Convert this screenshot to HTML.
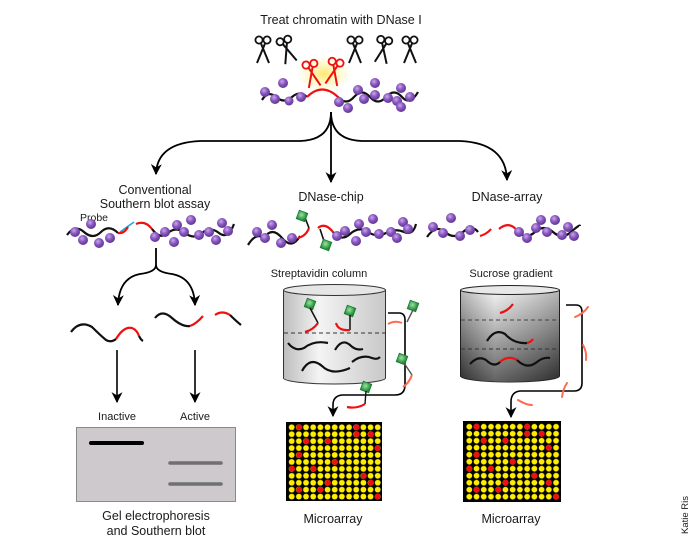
<!DOCTYPE html>
<html><head><meta charset="utf-8"><style>
html,body{margin:0;padding:0;background:#fff;width:700px;height:557px;overflow:hidden}
svg{display:block}
text{font-family:"Liberation Sans",Arial,sans-serif;fill:#1a1a1a}
</style></head><body>
<svg width="700" height="557" viewBox="0 0 700 557" xmlns="http://www.w3.org/2000/svg">
<defs>
<radialGradient id="nuc" cx="40%" cy="35%" r="65%"><stop offset="0" stop-color="#c9a8ec"/><stop offset="0.5" stop-color="#8a58c0"/><stop offset="1" stop-color="#5e3592"/></radialGradient>
<radialGradient id="glow" cx="50%" cy="50%" r="50%"><stop offset="0" stop-color="#ffe75a" stop-opacity="0.9"/><stop offset="1" stop-color="#fff6b0" stop-opacity="0"/></radialGradient>
<linearGradient id="cylG" x1="0" x2="1"><stop offset="0" stop-color="#bdbdbd"/><stop offset="0.35" stop-color="#f4f4f4"/><stop offset="1" stop-color="#c8c8c8"/></linearGradient>
<linearGradient id="sucG" x1="0" y1="0" x2="0" y2="1"><stop offset="0" stop-color="#f2f2f2"/><stop offset="1" stop-color="#3a3a3a"/></linearGradient>
<linearGradient id="sucH" x1="0" x2="1"><stop offset="0" stop-color="#000" stop-opacity="0.25"/><stop offset="0.35" stop-color="#fff" stop-opacity="0.2"/><stop offset="1" stop-color="#000" stop-opacity="0.25"/></linearGradient>
<radialGradient id="grn" cx="40%" cy="40%" r="60%"><stop offset="0" stop-color="#9be39b"/><stop offset="1" stop-color="#1e8a3a"/></radialGradient>
<pattern id="dotsL" x="288.1" y="423.8" width="7.17" height="6.93" patternUnits="userSpaceOnUse"><circle cx="3.58" cy="3.46" r="2.9" fill="#ffee00"/></pattern>
<pattern id="dotsR" x="465.7" y="423.2" width="7.23" height="7" patternUnits="userSpaceOnUse"><circle cx="3.6" cy="3.5" r="2.9" fill="#ffee00"/></pattern>
<marker id="ah" viewBox="0 0 10 10" refX="9" refY="5" markerWidth="11" markerHeight="11" markerUnits="userSpaceOnUse" orient="auto"><path d="M0,0 L10,5 L0,10 L3,5 Z" fill="#000"/></marker>
<g id="sc"><circle cx="-4" cy="-10" r="3.6" fill="none" stroke-width="1.8"/><circle cx="4" cy="-10" r="3.6" fill="none" stroke-width="1.8"/><path d="M-2,-6.5 L6,13 M2,-6.5 L-6,13" fill="none" stroke-width="2"/></g>
<g id="gs"><rect x="-4.5" y="-4.5" width="9" height="9" fill="url(#grn)" stroke="#157a2e" stroke-width="0.8" transform="rotate(20)"/></g>
</defs>

<text x="341" y="24" font-size="12.5" text-anchor="middle">Treat chromatin with DNase I</text>
<g stroke="#111"><use href="#sc" x="263" y="50"/><use href="#sc" x="287" y="50" transform="rotate(-18 287 50)"/><use href="#sc" x="355" y="50"/><use href="#sc" x="383" y="50" transform="rotate(10 383 50)"/><use href="#sc" x="410" y="50"/></g>
<ellipse cx="324" cy="74" rx="28" ry="19" fill="url(#glow)"/>
<g stroke="#ee1111"><use href="#sc" x="312" y="74" transform="rotate(-12 312 74)"/><use href="#sc" x="334" y="72" transform="rotate(12 334 72)"/></g>

<path d="M262,100 Q268,90 276,97 T292,97 T307,97" fill="none" stroke="#111" stroke-width="2.2"/>
<path d="M307,97 Q322,82 338,97" fill="none" stroke="#ee1111" stroke-width="2.2"/>
<path d="M338,97 Q346,106 354,97 T370,97 T386,97 T402,97 T418,92" fill="none" stroke="#111" stroke-width="2.2"/>
<g fill="url(#nuc)">
<circle cx="265" cy="92" r="5"/><circle cx="275" cy="99" r="5"/><circle cx="283" cy="83" r="5"/><circle cx="301" cy="97" r="5"/><circle cx="289" cy="101" r="4.5"/>
<circle cx="339" cy="102" r="5"/><circle cx="348" cy="108" r="5"/><circle cx="358" cy="90" r="5"/><circle cx="364" cy="99" r="5"/><circle cx="375" cy="95" r="5"/><circle cx="375" cy="83" r="5"/><circle cx="388" cy="98" r="5"/><circle cx="397" cy="101" r="5"/><circle cx="401" cy="88" r="5"/><circle cx="410" cy="97" r="5"/><circle cx="401" cy="107" r="5"/>
</g>

<path d="M331,112 Q331,140 300,141 L200,141 Q157,143 156,174" fill="none" stroke="#000" stroke-width="1.8" marker-end="url(#ah)"/>
<path d="M331,112 L331,182" fill="none" stroke="#000" stroke-width="1.8" marker-end="url(#ah)"/>
<path d="M331,112 Q331,140 362,141 L460,141 Q506,143 507,180" fill="none" stroke="#000" stroke-width="1.8" marker-end="url(#ah)"/>

<text x="155" y="194" font-size="12.5" text-anchor="middle">Conventional</text>
<text x="155" y="208" font-size="12.5" text-anchor="middle">Southern blot assay</text>
<text x="331" y="201" font-size="12.5" text-anchor="middle">DNase-chip</text>
<text x="507" y="201" font-size="12.5" text-anchor="middle">DNase-array</text>

<text x="80" y="221" font-size="10.5">Probe</text>
<line x1="120" y1="232" x2="134" y2="222" stroke="#22aadd" stroke-width="1.6"/>
<path d="M67,235 Q75,224 84,232 T101,232 T118,233" fill="none" stroke="#111" stroke-width="2.2"/>
<path d="M118,233 Q124,234 128,227" fill="none" stroke="#ee1111" stroke-width="2.2"/>
<path d="M136,224 Q145,220 152,229" fill="none" stroke="#ee1111" stroke-width="2.2"/>
<path d="M152,229 Q160,240 168,233 T185,233 T202,233 T219,233 T234,224" fill="none" stroke="#111" stroke-width="2.2"/>
<g fill="url(#nuc)">
<circle cx="75" cy="232" r="5"/><circle cx="91" cy="224" r="5"/><circle cx="83" cy="240" r="5"/><circle cx="99" cy="243" r="5"/><circle cx="110" cy="238" r="5"/>
<circle cx="155" cy="237" r="5"/><circle cx="165" cy="232" r="5"/><circle cx="174" cy="242" r="5"/><circle cx="177" cy="225" r="5"/><circle cx="184" cy="232" r="5"/><circle cx="191" cy="220" r="5"/><circle cx="199" cy="235" r="5"/><circle cx="209" cy="232" r="5"/><circle cx="216" cy="240" r="5"/><circle cx="222" cy="223" r="5"/><circle cx="228" cy="231" r="5"/>
</g>

<path d="M248,245 Q256,232 264,238 Q272,226 282,238 T300,236" fill="none" stroke="#111" stroke-width="2.2"/>
<path d="M298,238 Q306,236 309,228" fill="none" stroke="#ee1111" stroke-width="2.2"/>
<line x1="309" y1="228" x2="304" y2="215" stroke="#111" stroke-width="1.6"/>
<use href="#gs" x="302" y="216"/>
<path d="M318,228 Q325,222 333,232" fill="none" stroke="#ee1111" stroke-width="2.2"/>
<line x1="320" y1="229" x2="325" y2="244" stroke="#111" stroke-width="1.6"/>
<use href="#gs" x="326" y="245"/>
<path d="M333,232 Q341,242 350,234 T368,232 T386,233 T404,232 T416,224" fill="none" stroke="#111" stroke-width="2.2"/>
<g fill="url(#nuc)">
<circle cx="257" cy="232" r="5"/><circle cx="272" cy="225" r="5"/><circle cx="265" cy="238" r="5"/><circle cx="281" cy="243" r="5"/><circle cx="292" cy="238" r="5"/>
<circle cx="337" cy="236" r="5"/><circle cx="345" cy="231" r="5"/><circle cx="356" cy="241" r="5"/><circle cx="359" cy="224" r="5"/><circle cx="366" cy="232" r="5"/><circle cx="373" cy="219" r="5"/><circle cx="379" cy="234" r="5"/><circle cx="391" cy="232" r="5"/><circle cx="397" cy="238" r="5"/><circle cx="403" cy="222" r="5"/><circle cx="408" cy="229" r="5"/>
</g>

<path d="M427,237 Q436,224 445,232 T463,232 T478,232" fill="none" stroke="#111" stroke-width="2.2"/>
<path d="M480,236 Q487,234 491,229" fill="none" stroke="#ee1111" stroke-width="2.2"/>
<path d="M499,229 Q510,220 518,232" fill="none" stroke="#ee1111" stroke-width="2.2"/>
<path d="M518,232 Q526,240 535,232 T553,232 T571,232 T580,226" fill="none" stroke="#111" stroke-width="2.2"/>
<g fill="url(#nuc)">
<circle cx="433" cy="227" r="5"/><circle cx="443" cy="233" r="5"/><circle cx="451" cy="218" r="5"/><circle cx="460" cy="236" r="5"/><circle cx="470" cy="230" r="5"/>
<circle cx="519" cy="232" r="5"/><circle cx="527" cy="238" r="5"/><circle cx="536" cy="228" r="5"/><circle cx="541" cy="220" r="5"/><circle cx="547" cy="232" r="5"/><circle cx="555" cy="220" r="5"/><circle cx="562" cy="235" r="5"/><circle cx="568" cy="227" r="5"/><circle cx="574" cy="236" r="5"/>
</g>

<path d="M156,248 L156,265 Q156,272 140,274 Q119,278 118,305" fill="none" stroke="#000" stroke-width="1.8" marker-end="url(#ah)"/>
<path d="M156,265 Q156,272 172,274 Q194,278 195,305" fill="none" stroke="#000" stroke-width="1.8" marker-end="url(#ah)"/>
<path d="M71,332 Q80,320 92,327 Q100,335 106,340 Q111,343 116,339" fill="none" stroke="#111" stroke-width="2.2"/>
<path d="M116,339 Q124,326 132,328 Q137,330 139,336" fill="none" stroke="#ee1111" stroke-width="2.2"/>
<path d="M139,336 Q141,340 143,341" fill="none" stroke="#111" stroke-width="2.2"/>
<path d="M155,318 Q162,309 172,318 T190,326" fill="none" stroke="#111" stroke-width="2.2"/>
<path d="M190,326 Q196,324 203,316" fill="none" stroke="#ee1111" stroke-width="2.2"/>
<path d="M215,315 Q222,310 230,315" fill="none" stroke="#ee1111" stroke-width="2.2"/>
<path d="M230,315 Q236,321 241,325" fill="none" stroke="#111" stroke-width="2.2"/>
<line x1="117" y1="350" x2="117" y2="402" stroke="#000" stroke-width="1.6" marker-end="url(#ah)"/>
<line x1="195" y1="350" x2="195" y2="402" stroke="#000" stroke-width="1.6" marker-end="url(#ah)"/>
<text x="117" y="420" font-size="11" text-anchor="middle">Inactive</text>
<text x="195" y="420" font-size="11" text-anchor="middle">Active</text>
<rect x="76.5" y="427.5" width="159" height="74" fill="#cdc9cd" stroke="#8a8a8a"/>
<line x1="91" y1="443" x2="142" y2="443" stroke="#000" stroke-width="4" stroke-linecap="round"/>
<line x1="170" y1="463" x2="221" y2="463" stroke="#707070" stroke-width="3.5" stroke-linecap="round"/>
<line x1="170" y1="484" x2="221" y2="484" stroke="#707070" stroke-width="3.5" stroke-linecap="round"/>
<text x="156" y="520" font-size="12.5" text-anchor="middle">Gel electrophoresis</text>
<text x="156" y="535" font-size="12.5" text-anchor="middle">and Southern blot</text>

<text x="319" y="277" font-size="11" text-anchor="middle">Streptavidin column</text>
<path d="M283.5,290 L283.5,378 A51,6 0 0 0 385.5,378 L385.5,290" fill="url(#cylG)" stroke="#333" stroke-width="1"/>
<ellipse cx="334.5" cy="290" rx="51" ry="5.5" fill="#e6e6e6" stroke="#333" stroke-width="1"/>
<line x1="284" y1="333" x2="385" y2="333" stroke="#333" stroke-dasharray="4,3"/>
<use href="#gs" x="310" y="304"/><line x1="310" y1="308" x2="318" y2="323" stroke="#111" stroke-width="1.5"/>
<path d="M305,332 Q313,330 318,323" fill="none" stroke="#ee1111" stroke-width="2.2"/>
<use href="#gs" x="350" y="311"/><line x1="350" y1="315" x2="350" y2="330" stroke="#111" stroke-width="1.5"/>
<path d="M336,323 Q338,331 350,330" fill="none" stroke="#ee1111" stroke-width="2.2"/>
<g fill="none" stroke="#111" stroke-width="2.2">
<path d="M288,343 Q295,352 304,348 Q314,340 328,343"/>
<path d="M335,350 Q342,338 350,345 Q356,351 363,349"/>
<path d="M302,371 Q310,356 322,366 Q332,376 350,368"/>
<path d="M352,362 Q362,354 372,358 Q377,360 380,357"/>
</g>
<path d="M388,313 L399,313 Q405,313 405,320 L405,385 Q405,395 395,395 L342,395 Q333,396 333,405 L333,416" fill="none" stroke="#000" stroke-width="1.6" marker-end="url(#ah)"/>
<use href="#gs" x="413" y="306"/><line x1="413" y1="310" x2="407" y2="322" stroke="#555" stroke-width="1.4"/>
<path d="M388,324 Q395,320 402,323" fill="none" stroke="#ff6a50" stroke-width="2"/>
<use href="#gs" x="402" y="359"/><line x1="404" y1="363" x2="412" y2="375" stroke="#555" stroke-width="1.4"/>
<path d="M412,375 Q409,383 403,387" fill="none" stroke="#ff6a50" stroke-width="2"/>
<use href="#gs" x="366" y="387"/><line x1="366" y1="391" x2="365" y2="404" stroke="#111" stroke-width="1.4"/>
<path d="M347,407 Q357,409 365,404" fill="none" stroke="#ee1111" stroke-width="2.2"/>
<rect x="286" y="422" width="96" height="79" fill="#000"/>
<rect x="288.1" y="423.8" width="93.2" height="76.2" fill="url(#dotsL)"/>
<g fill="#ee1111">
<circle cx="299.3" cy="427.3" r="3"/><circle cx="356.7" cy="427.3" r="3"/><circle cx="356.7" cy="434.2" r="3"/><circle cx="371" cy="434.2" r="3"/><circle cx="306.4" cy="441.2" r="3"/><circle cx="327.9" cy="441.2" r="3"/><circle cx="377.5" cy="448.1" r="3"/><circle cx="299.3" cy="455" r="3"/><circle cx="335" cy="462" r="3"/><circle cx="292" cy="468.9" r="3"/><circle cx="313.5" cy="468.9" r="3"/><circle cx="363.8" cy="475.8" r="3"/><circle cx="327.9" cy="482.8" r="3"/><circle cx="371" cy="482.8" r="3"/><circle cx="299.3" cy="489.7" r="3"/><circle cx="320.7" cy="489.7" r="3"/><circle cx="377.5" cy="496.6" r="3"/>
</g>
<text x="333" y="523" font-size="12.5" text-anchor="middle">Microarray</text>

<text x="511" y="277" font-size="11" text-anchor="middle">Sucrose gradient</text>
<path d="M460.5,290 L460.5,376 A49.5,6 0 0 0 559.5,376 L559.5,290" fill="url(#sucG)" stroke="#222" stroke-width="1"/>
<path d="M460.5,290 L460.5,376 A49.5,6 0 0 0 559.5,376 L559.5,290 Z" fill="url(#sucH)"/>
<ellipse cx="510" cy="290" rx="49.5" ry="4.5" fill="#e8e8e8" stroke="#222" stroke-width="1"/>
<line x1="461" y1="320" x2="559" y2="320" stroke="#444" stroke-dasharray="4,3"/>
<line x1="461" y1="349" x2="559" y2="349" stroke="#333" stroke-dasharray="4,3"/>
<path d="M500,313 Q508,311 513,304" fill="none" stroke="#ee1111" stroke-width="2.2"/>
<path d="M487,341 Q495,328 505,334 Q514,344 527,343" fill="none" stroke="#111" stroke-width="2.2"/>
<path d="M527,343 Q531,342 533,339" fill="none" stroke="#ee1111" stroke-width="2.2"/>
<path d="M470,364 Q478,355 486,360 Q494,368 500,362" fill="none" stroke="#111" stroke-width="2.2"/>
<path d="M500,362 Q508,355 517,360" fill="none" stroke="#ee1111" stroke-width="2.2"/>
<path d="M517,360 Q527,370 537,362 Q543,357 550,358" fill="none" stroke="#111" stroke-width="2.2"/>
<path d="M566,305 L576,305 Q582,305 582,312 L582,383 Q582,391 574,391 L520,391 Q511,392 511,402 L511,417" fill="none" stroke="#000" stroke-width="1.6" marker-end="url(#ah)"/>
<g fill="none" stroke="#ff6a50" stroke-width="2" stroke-linecap="round">
<path d="M575,317 Q583,314 588,307"/><path d="M583,345 Q587,352 586,360"/><path d="M562,397 Q563,389 567,383"/><path d="M518,400 Q526,405 532,405"/>
</g>
<rect x="463" y="421" width="98" height="81" fill="#000"/>
<rect x="465.7" y="423.2" width="94" height="77" fill="url(#dotsR)"/>
<g fill="#ee1111">
<circle cx="476.5" cy="426.7" r="3"/><circle cx="527.1" cy="426.7" r="3"/><circle cx="527.1" cy="433.7" r="3"/><circle cx="541.6" cy="433.7" r="3"/><circle cx="483.8" cy="440.7" r="3"/><circle cx="505.5" cy="440.7" r="3"/><circle cx="548.8" cy="447.7" r="3"/><circle cx="476.5" cy="454.7" r="3"/><circle cx="512.7" cy="461.7" r="3"/><circle cx="469.3" cy="468.7" r="3"/><circle cx="491" cy="468.7" r="3"/><circle cx="534.4" cy="475.7" r="3"/><circle cx="505.5" cy="482.7" r="3"/><circle cx="548.8" cy="482.7" r="3"/><circle cx="476.5" cy="489.7" r="3"/><circle cx="498.2" cy="489.7" r="3"/><circle cx="556" cy="496.7" r="3"/>
</g>
<text x="511" y="523" font-size="12.5" text-anchor="middle">Microarray</text>

<text x="0" y="0" font-size="9.5" fill="#555" text-anchor="middle" transform="translate(688,515) rotate(-90)">Katie Ris</text>
</svg>
</body></html>
